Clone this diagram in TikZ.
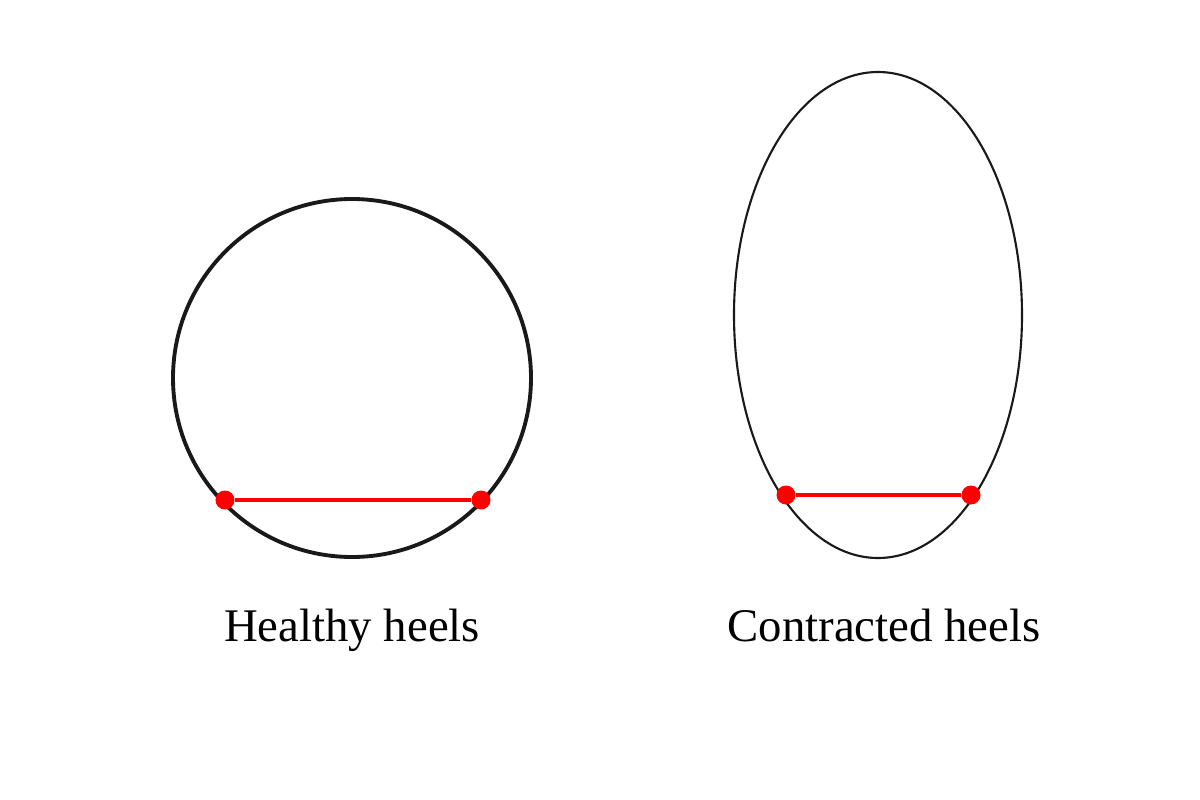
\documentclass[tikz,border=0pt]{standalone}
\usepackage{fontspec}
\setmainfont{Liberation Serif}
\tikzset{
    heel/.style={draw=black!90},
    width/.style={draw=red, line width=1.3pt},
    dot/.style={circle, fill=red, inner sep=0pt, minimum size=0.19cm},
    label/.style={font=\fontsize{13.3}{16}\selectfont, anchor=base}
}
\begin{document}
\begin{tikzpicture}[x=0.01cm, y=-0.01cm]
    \useasboundingbox (0,0) rectangle (1200,800);

    % healthy heel
    \draw[heel, line width=1.1pt] (352,378) circle (179);
    \node[dot] (hl) at (225,500) {};
    \node[dot] (hr) at (481,500) {};
    \draw[width] (hl) -- (hr);
    \node[label] (htext) at (352,641) {Healthy heels};

    % contracted heel
    \draw[heel, line width=0.6pt] (878,315) ellipse (144 and 243);
    \node[dot] (cl) at (786,495) {};
    \node[dot] (cr) at (971,495) {};
    \draw[width] (cl) -- (cr);
    \node[label] (ctext) at (884,641) {Contracted heels};
\end{tikzpicture}
\end{document}
